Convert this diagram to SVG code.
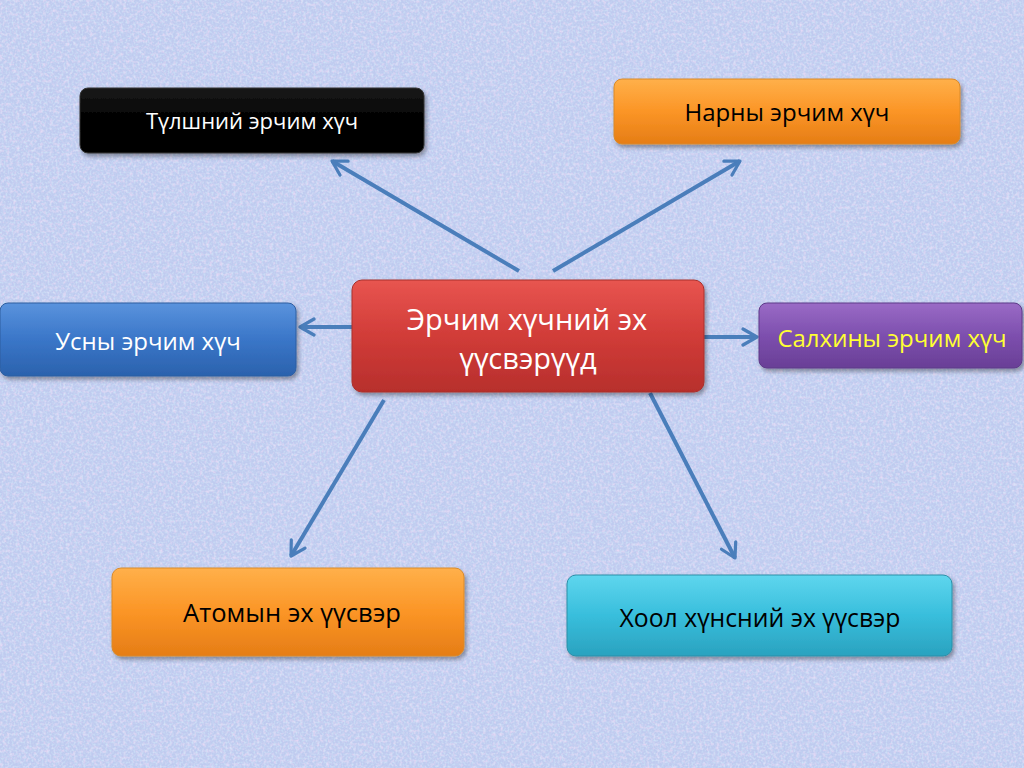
<svg xmlns="http://www.w3.org/2000/svg" width="1024" height="768" viewBox="0 0 1024 768">
<defs>
<style>
.t{font-family:"Open Sans","Noto Sans","DejaVu Sans",sans-serif;text-anchor:middle;dominant-baseline:central}
.c{stroke:#4a7ebb;stroke-width:4;fill:none;marker-end:url(#ah)}
.box{filter:url(#sh)}
</style>
<filter id="noise" x="0" y="0" width="100%" height="100%">
<feTurbulence type="fractalNoise" baseFrequency="0.3" numOctaves="2" seed="3" result="n"/>
<feColorMatrix in="n" type="matrix" values="0 0 0 0 0.94  0 0 0 0 0.74  0 0 0 0 0.94  0 0 0 2.2 -1.0"/>
</filter>
<filter id="noise2" x="0" y="0" width="100%" height="100%">
<feTurbulence type="fractalNoise" baseFrequency="0.5" numOctaves="2" seed="9" result="n"/>
<feColorMatrix in="n" type="matrix" values="0 0 0 0 0.66  0 0 0 0 0.84  0 0 0 0 0.97  0 0 0 2.2 -0.95"/>
</filter>
<filter id="sh" x="-10%" y="-10%" width="120%" height="130%">
<feDropShadow dx="2" dy="3" stdDeviation="2" flood-color="#000" flood-opacity="0.35"/>
</filter>
<marker id="ah" viewBox="0 0 10 10" refX="8" refY="5" markerWidth="5" markerHeight="5" orient="auto" markerUnits="strokeWidth">
<path d="M1,1 L8,5 L1,9" fill="none" stroke="#4a7ebb" stroke-width="1.6" stroke-linecap="round" stroke-linejoin="round"/>
</marker>
<linearGradient id="gBlack" x1="0" y1="0" x2="0" y2="1"><stop offset="0" stop-color="#1a1a1a"/><stop offset="0.5" stop-color="#000"/><stop offset="1" stop-color="#050505"/></linearGradient>
<linearGradient id="gOrange" x1="0" y1="0" x2="0" y2="1"><stop offset="0" stop-color="#ffb04a"/><stop offset="0.5" stop-color="#fb9526"/><stop offset="1" stop-color="#e57d16"/></linearGradient>
<linearGradient id="gBlue" x1="0" y1="0" x2="0" y2="1"><stop offset="0" stop-color="#5a93dd"/><stop offset="0.5" stop-color="#3a76c8"/><stop offset="1" stop-color="#2b62ad"/></linearGradient>
<linearGradient id="gRed" x1="0" y1="0" x2="0" y2="1"><stop offset="0" stop-color="#e85550"/><stop offset="0.5" stop-color="#d13c38"/><stop offset="1" stop-color="#b72f2c"/></linearGradient>
<linearGradient id="gPurple" x1="0" y1="0" x2="0" y2="1"><stop offset="0" stop-color="#9a6bc6"/><stop offset="0.5" stop-color="#7d4fae"/><stop offset="1" stop-color="#693f96"/></linearGradient>
<linearGradient id="gCyan" x1="0" y1="0" x2="0" y2="1"><stop offset="0" stop-color="#5fd6ee"/><stop offset="0.5" stop-color="#38bedc"/><stop offset="1" stop-color="#2aa2bf"/></linearGradient>
</defs>
<rect width="1024" height="768" fill="#bfcbef"/>
<rect width="1024" height="768" filter="url(#noise)" opacity="0.7"/>
<rect width="1024" height="768" filter="url(#noise2)" opacity="0.7"/>
<g id="connectors">
<line class="c" x1="519" y1="271" x2="332" y2="161"/>
<line class="c" x1="553" y1="271" x2="740" y2="161"/>
<line class="c" x1="352" y1="327" x2="300" y2="327"/>
<line class="c" x1="704" y1="337" x2="757" y2="337"/>
<line class="c" x1="384" y1="400" x2="291" y2="556"/>
<line class="c" x1="650" y1="393" x2="735" y2="558"/>
</g>
<g id="n-tulsh">
<rect class="box" x="80" y="88" width="344" height="65" rx="8" fill="url(#gBlack)" stroke="#333" stroke-width="1"/>
<text class="t" x="252" y="120" font-size="22" fill="#fff">Түлшний эрчим хүч</text>
</g>
<g id="n-narny">
<rect class="box" x="614" y="79" width="346" height="65" rx="8" fill="url(#gOrange)" stroke="#d98a2a" stroke-width="1"/>
<text class="t" x="787" y="111" font-size="24" fill="#000">Нарны эрчим хүч</text>
</g>
<g id="n-usny">
<rect class="box" x="0" y="303" width="296" height="73" rx="8" fill="url(#gBlue)" stroke="#2f5fa0" stroke-width="1"/>
<text class="t" x="148" y="340" font-size="24" fill="#fff">Усны эрчим хүч</text>
</g>
<g id="n-center">
<rect class="box" x="352" y="280" width="352" height="112" rx="10" fill="url(#gRed)" stroke="#a9302c" stroke-width="1"/>
<text class="t" x="527" y="318" font-size="29" fill="#fff">Эрчим хүчний эх</text>
<text class="t" x="528" y="357" font-size="29" fill="#fff">үүсвэрүүд</text>
</g>
<g id="n-salhi">
<rect class="box" x="759" y="303" width="263" height="65" rx="8" fill="url(#gPurple)" stroke="#5e3a88" stroke-width="1"/>
<text class="t" x="892" y="337" font-size="24" fill="#ffff33">Салхины эрчим хүч</text>
</g>
<g id="n-atom">
<rect class="box" x="112" y="568" width="352" height="88" rx="9" fill="url(#gOrange)" stroke="#d98a2a" stroke-width="1"/>
<text class="t" x="292" y="612" font-size="25" fill="#000" textLength="218" lengthAdjust="spacingAndGlyphs">Атомын эх үүсвэр</text>
</g>
<g id="n-hool">
<rect class="box" x="567" y="575" width="385" height="81" rx="9" fill="url(#gCyan)" stroke="#2a8fa8" stroke-width="1"/>
<text class="t" x="760" y="617" font-size="25" fill="#000" textLength="281" lengthAdjust="spacingAndGlyphs">Хоол хүнсний эх үүсвэр</text>
</g>
</svg>
